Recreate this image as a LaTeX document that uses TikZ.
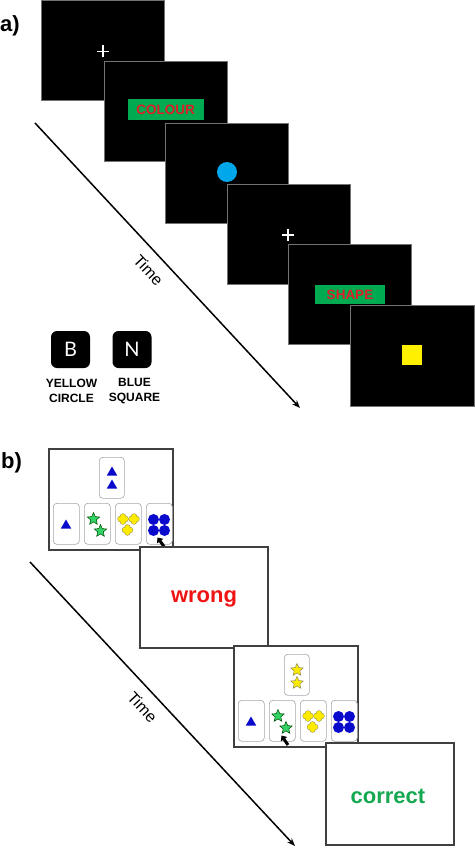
\documentclass[tikz,border=0pt]{standalone}
\usepackage{fontspec}
\setmainfont{Liberation Sans}
\newfontfamily\keyfont{Lato}
\usetikzlibrary{shapes.geometric,arrows.meta}
\definecolor{cuegreen}{RGB}{0,170,80}
\definecolor{cuered}{RGB}{222,30,40}
\definecolor{dotblue}{RGB}{0,168,235}
\definecolor{sqyellow}{RGB}{255,240,0}
\definecolor{shapeblue}{RGB}{10,10,205}
\definecolor{stargreen}{RGB}{50,210,100}
\definecolor{staryellow}{RGB}{255,235,0}
\definecolor{okgreen}{RGB}{20,168,80}
\definecolor{badred}{RGB}{238,20,20}
\tikzset{pics/yplus/.style={code={
  \foreach \dx/\dy in {-2.6/0,2.6/0,0/-2.6,0/2.6} {\fill[black!45!yellow] (\dx,\dy) circle (3.1);}
  \foreach \dx/\dy in {-2.6/0,2.6/0,0/-2.6,0/2.6} {\fill[staryellow] (\dx,\dy) circle (2.5);}
  \fill[staryellow] (0,0) circle (2.6);}}}
\begin{document}
\begin{tikzpicture}[x=1pt,y=-1pt,
  blackscreen/.style={draw=black!55, line width=0.9pt, fill=black, minimum width=123pt, minimum height=100pt, anchor=north west, inner sep=0pt, outer sep=0pt},
  whitescreen/.style={draw=black!75, line width=1.1pt, fill=white, minimum height=101pt, anchor=north west, inner sep=0pt, outer sep=0pt},
  cue/.style={fill=cuegreen, text=cuered, font=\bfseries\fontsize{13.5}{13.5}\selectfont, inner sep=0pt},
  fixcross/.style={draw=white, line width=1.6pt},
  timeline/.style={line width=1.5pt, -{Stealth[length=8pt,width=6pt]}},
  timelabel/.style={font=\fontsize{16}{16}\selectfont, inner sep=0pt, rotate=-47},
  panellabel/.style={font=\bfseries\fontsize{22}{22}\selectfont, inner sep=0pt},
  keybox/.style={fill=black, rounded corners=6pt, minimum width=39pt, minimum height=37pt, text=white, font=\keyfont\fontsize{20}{20}\selectfont, inner sep=0pt},
  keylabel/.style={font=\bfseries\fontsize{12}{15}\selectfont, align=center, inner sep=0pt},
  card/.style={draw=black!35, line width=0.6pt, rounded corners=3.5pt, fill=white, minimum width=26pt, minimum height=41pt, anchor=north west, inner sep=0pt},
  tri/.style={regular polygon, regular polygon sides=3, fill=shapeblue, minimum size=12pt, inner sep=0pt},
  bdot/.style={circle, fill=shapeblue, minimum size=11pt, inner sep=0pt},
  gstar/.style={star, star points=5, star point ratio=2.2, fill=stargreen, draw=black!70!green, line width=0.5pt, minimum size=13pt, inner sep=0pt},
  ystar/.style={gstar, fill=staryellow, draw=black!50!yellow},
  cursorarrow/.style={line width=3pt, -{Triangle[length=4.5pt,width=7.5pt]}},
  feedback/.style={font=\bfseries\fontsize{22}{22}\selectfont, inner sep=0pt}
]
\useasboundingbox (0,0) rectangle (474,848);

% ---------- panel a ----------
\node[panellabel] (la) at (10,26) {a)};

\node[blackscreen] (sa1) at (41,0.5) {};
\draw[fixcross] ([shift={(56,51)}]sa1.north west) -- ([shift={(68,51)}]sa1.north west);
\draw[fixcross] ([shift={(62,45)}]sa1.north west) -- ([shift={(62,57)}]sa1.north west);

\node[blackscreen] (sa2) at (104,61) {};
\node[cue, minimum width=76pt, minimum height=21pt] (cue1) at ([shift={(61.5,48.5)}]sa2.north west) {COLOUR};

\node[blackscreen] (sa3) at (165,123) {};
\node[circle, fill=dotblue, minimum size=20pt, inner sep=0pt] (bluedot) at ([shift={(62,49)}]sa3.north west) {};

\node[blackscreen] (sa4) at (227,184) {};
\draw[fixcross] ([shift={(55,51)}]sa4.north west) -- ([shift={(67,51)}]sa4.north west);
\draw[fixcross] ([shift={(61,45)}]sa4.north west) -- ([shift={(61,57)}]sa4.north west);

\node[blackscreen] (sa5) at (288,244) {};
\node[cue, minimum width=70pt, minimum height=19pt] (cue2) at ([shift={(62,50.5)}]sa5.north west) {SHAPE};

\node[blackscreen, minimum width=124pt, minimum height=101pt] (sa6) at (350,305) {};
\node[fill=sqyellow, minimum size=20pt, inner sep=0pt] (ysq) at ([shift={(62,50)}]sa6.north west) {};

\coordinate (ta0) at (35,123);
\coordinate (ta1) at (300,408);
\draw[timeline] (ta0) -- (ta1);
\node[timelabel] (tla) at (148.5,270) {Time};

\node[keybox] (keyB) at (70.5,349.5) {B};
\node[keybox] (keyN) at (132,349.5) {N};
\node[keylabel] (labB) at (71.5,391) {YELLOW\\CIRCLE};
\node[keylabel] (labN) at (134.5,391) {BLUE\\SQUARE};

% ---------- panel b ----------
\node[panellabel] (lb) at (11.5,463) {b)};

\node[whitescreen, minimum width=124pt] (sb1) at (49,449) {};
\begin{scope}[shift={(sb1.north west)}]
  \node[card, minimum width=25pt] (b1top) at (50,8) {};
  \node[tri] (b1t1) at (63,23.5) {};
  \node[tri] (b1t2) at (63,36.5) {};
  \node[card] (b1c1) at (4,54) {};
  \node[card] (b1c2) at (35,54) {};
  \node[card] (b1c3) at (66,54) {};
  \node[card] (b1c4) at (97,54) {};
  \node[tri] (b1tri) at (17,76.5) {};
  \node[gstar] (b1s1) at (44.5,70) {};
  \node[gstar] (b1s2) at (51.5,82) {};
  \pic at (74,70) {yplus};
  \pic at (85,70) {yplus};
  \pic at (78.5,81) {yplus};
  \node[bdot] (b1d1) at (104.5,70.5) {};
  \node[bdot] (b1d2) at (115.5,70.5) {};
  \node[bdot] (b1d3) at (104.5,81.5) {};
  \node[bdot] (b1d4) at (115.5,81.5) {};
  \coordinate (cur1a) at (115,97.5);
  \coordinate (cur1b) at (108.5,88.5);
  \draw[cursorarrow] (cur1a) -- (cur1b);
\end{scope}

\node[whitescreen, minimum width=128pt] (sb2) at (140,547) {};
\node[feedback, text=badred] (wrong) at ([shift={(64,52)}]sb2.north west) {wrong};

\node[whitescreen, minimum width=124pt] (sb3) at (234,646) {};
\begin{scope}[shift={(sb3.north west)}]
  \node[card, minimum width=25pt] (b3top) at (50,8) {};
  \node[ystar] (b3t1) at (63,24) {};
  \node[ystar] (b3t2) at (63,37) {};
  \node[card] (b3c1) at (4,54) {};
  \node[card] (b3c2) at (35,54) {};
  \node[card] (b3c3) at (66,54) {};
  \node[card] (b3c4) at (97,54) {};
  \node[tri] (b3tri) at (17,76.5) {};
  \node[gstar] (b3s1) at (44,70) {};
  \node[gstar] (b3s2) at (52,82) {};
  \pic at (74,70) {yplus};
  \pic at (85,70) {yplus};
  \pic at (78.5,81) {yplus};
  \node[bdot] (b3d1) at (104.5,70.5) {};
  \node[bdot] (b3d2) at (115.5,70.5) {};
  \node[bdot] (b3d3) at (104.5,81.5) {};
  \node[bdot] (b3d4) at (115.5,81.5) {};
  \coordinate (cur3a) at (54,99);
  \coordinate (cur3b) at (47.5,89.5);
  \draw[cursorarrow] (cur3a) -- (cur3b);
\end{scope}

\node[whitescreen, minimum width=128pt, minimum height=102pt] (sb4) at (326,743) {};
\node[feedback, text=okgreen] (correct) at ([shift={(62,53)}]sb4.north west) {correct};

\coordinate (tb0) at (30,562);
\coordinate (tb1) at (295,846);
\draw[timeline] (tb0) -- (tb1);
\node[timelabel] (tlb) at (142.5,707) {Time};
\end{tikzpicture}
\end{document}
